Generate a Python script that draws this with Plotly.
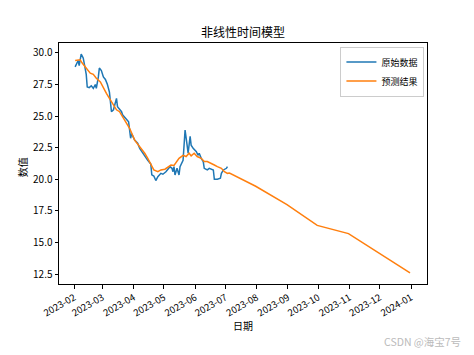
import plotly.graph_objects as go

# ---- data ----
raw_dates = ["2023-02-02", "2023-02-05", "2023-02-06", "2023-02-08", "2023-02-10", "2023-02-13",
             "2023-02-14", "2023-02-16", "2023-02-18", "2023-02-20", "2023-02-22", "2023-02-23",
             "2023-02-25", "2023-02-26", "2023-02-28", "2023-03-02", "2023-03-04", "2023-03-06",
             "2023-03-08", "2023-03-10", "2023-03-12", "2023-03-15", "2023-03-16", "2023-03-20",
             "2023-03-21", "2023-03-25", "2023-03-27", "2023-03-29", "2023-03-30", "2023-04-02",
             "2023-04-05", "2023-04-07", "2023-04-10", "2023-04-13", "2023-04-15", "2023-04-18",
             "2023-04-19", "2023-04-21", "2023-04-23", "2023-04-25", "2023-04-28", "2023-04-30",
             "2023-05-03", "2023-05-07", "2023-05-09", "2023-05-10", "2023-05-11", "2023-05-12",
             "2023-05-14", "2023-05-16", "2023-05-17", "2023-05-20", "2023-05-22", "2023-05-24",
             "2023-05-25", "2023-05-27", "2023-05-28", "2023-05-30", "2023-06-02", "2023-06-04",
             "2023-06-05", "2023-06-07", "2023-06-09", "2023-06-10", "2023-06-13", "2023-06-15",
             "2023-06-19", "2023-06-20", "2023-06-23", "2023-06-26", "2023-06-27", "2023-06-29",
             "2023-07-02", "2023-07-03"]
raw_values = [28.9, 29.4, 29.0, 29.9, 29.6, 28.3,
              27.3, 27.25, 27.4, 27.2, 27.5, 27.2,
              28.1, 28.8, 28.6, 28.1, 27.9, 27.5,
              26.9, 25.35, 25.5, 26.4, 25.75, 25.35,
              25.1, 24.7, 24.55, 23.25, 23.6, 23.1,
              22.85, 22.45, 22.06, 21.66, 21.5, 21.2,
              20.35, 20.26, 19.9, 20.2, 20.47, 20.4,
              20.6, 21.0, 20.87, 20.6, 21.0, 20.34,
              20.87, 20.34, 21.0, 21.5, 23.9, 22.7,
              22.06, 23.4, 22.7, 22.45, 22.2, 21.9,
              22.06, 21.66, 21.4, 20.87, 20.74, 20.87,
              20.74, 20.0, 20.0, 20.08, 20.47, 20.74,
              20.87, 21.0]

pred_dates = ["2023-02-02", "2023-02-07", "2023-02-09", "2023-02-13", "2023-02-17", "2023-02-20",
              "2023-02-23", "2023-02-27", "2023-03-02", "2023-03-05", "2023-03-08", "2023-03-12",
              "2023-03-15", "2023-03-18", "2023-03-23", "2023-03-28", "2023-04-02", "2023-04-07",
              "2023-04-12", "2023-04-15", "2023-04-18", "2023-04-21", "2023-04-25", "2023-04-28",
              "2023-05-02", "2023-05-05", "2023-05-08", "2023-05-11", "2023-05-14", "2023-05-16",
              "2023-05-20", "2023-05-23", "2023-05-26", "2023-05-28", "2023-05-31", "2023-06-03",
              "2023-06-07", "2023-06-10", "2023-06-13", "2023-06-17", "2023-06-20", "2023-06-23",
              "2023-06-27", "2023-06-30", "2023-07-03", "2023-07-05", "2023-07-31", "2023-08-31",
              "2023-09-30", "2023-10-31", "2023-11-30", "2023-12-31"]
pred_values = [29.4, 29.45, 29.2, 28.8, 28.4, 28.3,
               28.0, 27.7, 27.2, 26.8, 26.4, 25.9,
               25.5, 25.35, 24.7, 24.04, 23.1, 22.6,
               22.06, 21.66, 21.13, 20.74, 20.6, 20.74,
               20.8, 20.95, 21.13, 21.1, 21.4, 21.66,
               21.9, 21.8, 22.06, 21.85, 22.06, 21.8,
               21.66, 21.4, 21.4, 21.27, 21.13, 21.0,
               20.87, 20.6, 20.47, 20.5, 19.45, 18.0,
               16.35, 15.7, 14.15, 12.6]

x_tick_vals = ["2023-02-01", "2023-03-01", "2023-04-01", "2023-05-01", "2023-06-01", "2023-07-01",
               "2023-08-01", "2023-09-01", "2023-10-01", "2023-11-01", "2023-12-01", "2024-01-01"]
x_tick_text = ["2023-02", "2023-03", "2023-04", "2023-05", "2023-06", "2023-07",
               "2023-08", "2023-09", "2023-10", "2023-11", "2023-12", "2024-01"]
y_tick_vals = [12.5, 15.0, 17.5, 20.0, 22.5, 25.0, 27.5, 30.0]

FONT = "Noto Sans CJK SC"

fig = go.Figure()
fig.add_trace(go.Scatter(x=raw_dates, y=raw_values, mode="lines", name="原始数据",
                         line=dict(color="#1f77b4", width=1.5)))
fig.add_trace(go.Scatter(x=pred_dates, y=pred_values, mode="lines", name="预测结果",
                         line=dict(color="#ff7f0e", width=1.5)))

# page body has an 8px margin, so the figure is sized 8px smaller than the window
fig.update_layout(
    width=466, height=347,
    margin=dict(l=51, r=47, t=35, b=71),
    paper_bgcolor="white", plot_bgcolor="white",
    font=dict(family=FONT, size=10, color="black"),
    showlegend=True,
    legend=dict(x=0.993, y=0.985, xanchor="right", yanchor="top",
                bgcolor="rgba(255,255,255,0.8)", bordercolor="#cccccc", borderwidth=1,
                font=dict(size=9, family=FONT), tracegroupgap=0, itemwidth=30),
)
fig.update_xaxes(
    type="date", range=["2023-01-17", "2024-01-16 20:00"],
    tickvals=x_tick_vals, ticktext=x_tick_text, tickangle=-30,
    showgrid=False, zeroline=False,
    showline=True, linecolor="black", linewidth=1, mirror=True,
    ticks="outside", ticklen=3.5, tickcolor="black", tickwidth=1,
    tickfont=dict(size=9.5, family=FONT),
)
fig.update_yaxes(
    range=[11.715, 30.785],
    tickvals=y_tick_vals, tickformat=".1f",
    showgrid=False, zeroline=False,
    showline=True, linecolor="black", linewidth=1, mirror=True,
    ticks="outside", ticklen=3.5, tickcolor="black", tickwidth=1,
    tickfont=dict(size=10, family=FONT),
)
# title and axis titles placed like the reference
fig.add_annotation(text="非线性时间模型", xref="paper", yref="paper", x=0.5, y=1.046,
                   xanchor="center", yanchor="middle", showarrow=False,
                   font=dict(size=12, family=FONT, color="black"))
fig.add_annotation(text="日期", xref="paper", yref="paper", x=0.5, y=-0.174,
                   xanchor="center", yanchor="middle", showarrow=False,
                   font=dict(size=10, family=FONT, color="black"))
fig.add_annotation(text="数值", xref="paper", yref="paper", x=-0.1, y=0.485,
                   xanchor="center", yanchor="middle", showarrow=False, textangle=-90,
                   font=dict(size=10, family=FONT, color="black"))
fig.add_annotation(text="CSDN @海宝7号", xref="paper", yref="paper",
                   x=1.098, y=-0.24, xanchor="right", yanchor="middle", showarrow=False,
                   font=dict(size=10.5, family=FONT, color="#bbbbbb"))

fig.write_html("out.html")
